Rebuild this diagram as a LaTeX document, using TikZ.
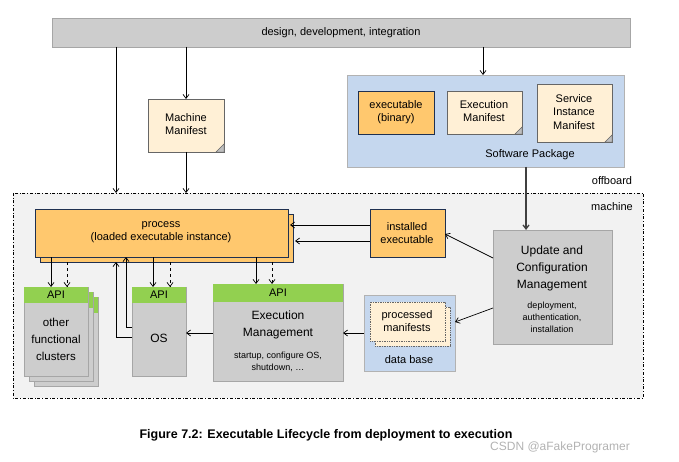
\documentclass[tikz,border=0pt]{standalone}
\usepackage{fontspec}
\setmainfont{Liberation Sans}
\usetikzlibrary{arrows.meta}
\definecolor{orng}{HTML}{FFC86E}
\definecolor{cream}{HTML}{FFF0D6}
\definecolor{pblue}{HTML}{C5D7EE}
\definecolor{gbox}{HTML}{CDCDCD}
\definecolor{apig}{HTML}{92D050}
\definecolor{dk}{HTML}{1F3050}
\begin{document}
\begin{tikzpicture}[x=1pt,y=-1pt,font=\fontsize{11}{13.5}\selectfont,
  arr/.style={-{Straight Barb[length=4pt,width=6pt]},black,line width=0.7pt},
  darr/.style={arr,dashed},
  gb/.style={draw=gray!70,fill=gbox},
  ob/.style={draw=dk,fill=orng,line width=0.7pt},
  note/.style={draw=gray!80!black,fill=cream,line width=0.7pt},
  lbl/.style={align=center,inner sep=0pt},
  sm/.style={font=\fontsize{9}{12}\selectfont}]
\useasboundingbox (0,0) rectangle (679,462);
% top bar
\draw[gb] (52,18) rectangle (630,47);
\node[lbl] (top) at (341,32.5) {design, development, integration};
\coordinate (topL) at (116,47); \coordinate (topM) at (186,47); \coordinate (topR) at (483,47);
% machine manifest
\draw[note] (148,99) rectangle (224,152);
\draw[gray!80!black,fill=gray!50] (224,144)--(216,152)--(224,152)--cycle;
\node[lbl] (mm) at (186,124) {Machine\\Manifest};
% software package
\draw[draw=gray!60,fill=pblue] (347,75) rectangle (624,167);
\draw[ob] (358,91) rectangle (434,134); \node[lbl] (exb) at (396,112) {executable\\(binary)};
\draw[note] (447,91) rectangle (522,134); \draw[gray!80!black,fill=gray!50] (522,127)--(515,134)--(522,134)--cycle;
\node[lbl] (em1) at (484,111) {Execution\\Manifest};
\draw[note] (537,84) rectangle (612,142); \draw[gray!80!black,fill=gray!50] (612,135)--(605,142)--(612,142)--cycle;
\node[lbl] (sim) at (574,112) {Service\\Instance\\Manifest};
\node[lbl] (sp) at (530,155) {Software Package};
\node[lbl] (off) at (612,181) {offboard};
% machine
\draw[dash dot,fill=gray!10,line width=0.6pt] (13,193) rectangle (643,398);
\node[lbl] (mach) at (612,207) {machine};
\coordinate (mL) at (116,193); \coordinate (mM) at (186,193);
% process
\draw[ob] (40,214) rectangle (293,262);
\draw[ob] (35,209) rectangle (288,257);
\node[lbl] (proc) at (161,232) {process\\(loaded executable instance)};
% installed exe
\draw[ob] (370,209) rectangle (445,257);
\node[lbl] (inst) at (407,233) {installed\\executable};
% UCM
\draw[gb] (493,230) rectangle (612,344);
\node[lbl,font=\fontsize{12}{17}\selectfont] (ucm) at (552,268) {Update and\\Configuration\\Management};
\node[lbl,sm] (ucm2) at (552,317) {deployment,\\authentication,\\installation};
% data base
\draw[draw=gray!60,fill=pblue] (364,295) rectangle (455,371);
\draw[note,densely dotted] (375,307) rectangle (450,346);
\draw[note,densely dotted] (370,302) rectangle (445,341);
\node[lbl] (pm) at (407,321) {processed\\manifests};
\node[lbl] (db) at (409,360) {data base};
% EM
\draw[gb] (213,284) rectangle (343,381);
\fill[apig] (213,284) rectangle (343,302); \node[lbl] at (278,293) {API};
\node[lbl,font=\fontsize{12}{17}\selectfont] (exm) at (278,325) {Execution\\Management};
\node[lbl,sm] (exm2) at (278,362) {startup, configure OS,\\shutdown, \dots};
% OS
\draw[gb] (132,287) rectangle (186,376);
\fill[apig] (132,287) rectangle (186,303); \node[lbl] at (159,295) {API};
\node[lbl,font=\fontsize{12}{15}\selectfont] (os) at (159,338) {OS};
% other clusters
\foreach \d in {10,5,0}{
\draw[gb] (24+\d,287+\d) rectangle (88+\d,376+\d);
\fill[apig] (24+\d,287+\d) rectangle (88+\d,303+\d);}
\node[lbl] at (56,295) {API};
\node[lbl,font=\fontsize{11.5}{17}\selectfont] (oth) at (56,339) {other\\functional\\clusters};
% arrows
\draw[arr] (topL)--(mL);
\draw[arr] (topM)--(186,99);
\draw[arr] (186,152)--(mM);
\draw[arr] (topR)--(483,75);
\draw[-{Straight Barb[length=4pt,width=6pt]},gray!50!black,line width=1.3pt] (526,167)--(526,230);
\draw[arr] (370,225)--(290,225);
\draw[arr] (370,241)--(295,241);
\draw[arr] (493,258)--(445,234);
\draw[arr] (493,308)--(455,322);
\draw[arr] (364,333)--(343,333);
\draw[arr] (213,333)--(186,333);
\draw[arr] (132,337)--(116,337)--(116,262);
\draw[arr] (132,327)--(126,327)--(126,257);
\draw[arr] (51,257)--(51,287); \draw[darr] (67,262)--(67,287);
\draw[arr] (153,257)--(153,287); \draw[darr] (170,262)--(170,287);
\draw[arr] (256,257)--(256,284); \draw[darr] (272,262)--(272,284);
% caption
\node[lbl,font=\bfseries\fontsize{12.5}{15}\selectfont] (cap) at (326,435) {Figure 7.2: Executable Lifecycle from deployment to execution};
\node[lbl,text=gray!60,font=\fontsize{12}{15}\selectfont] (wm) at (560,447) {CSDN @aFakeProgramer};
\end{tikzpicture}
\end{document}
